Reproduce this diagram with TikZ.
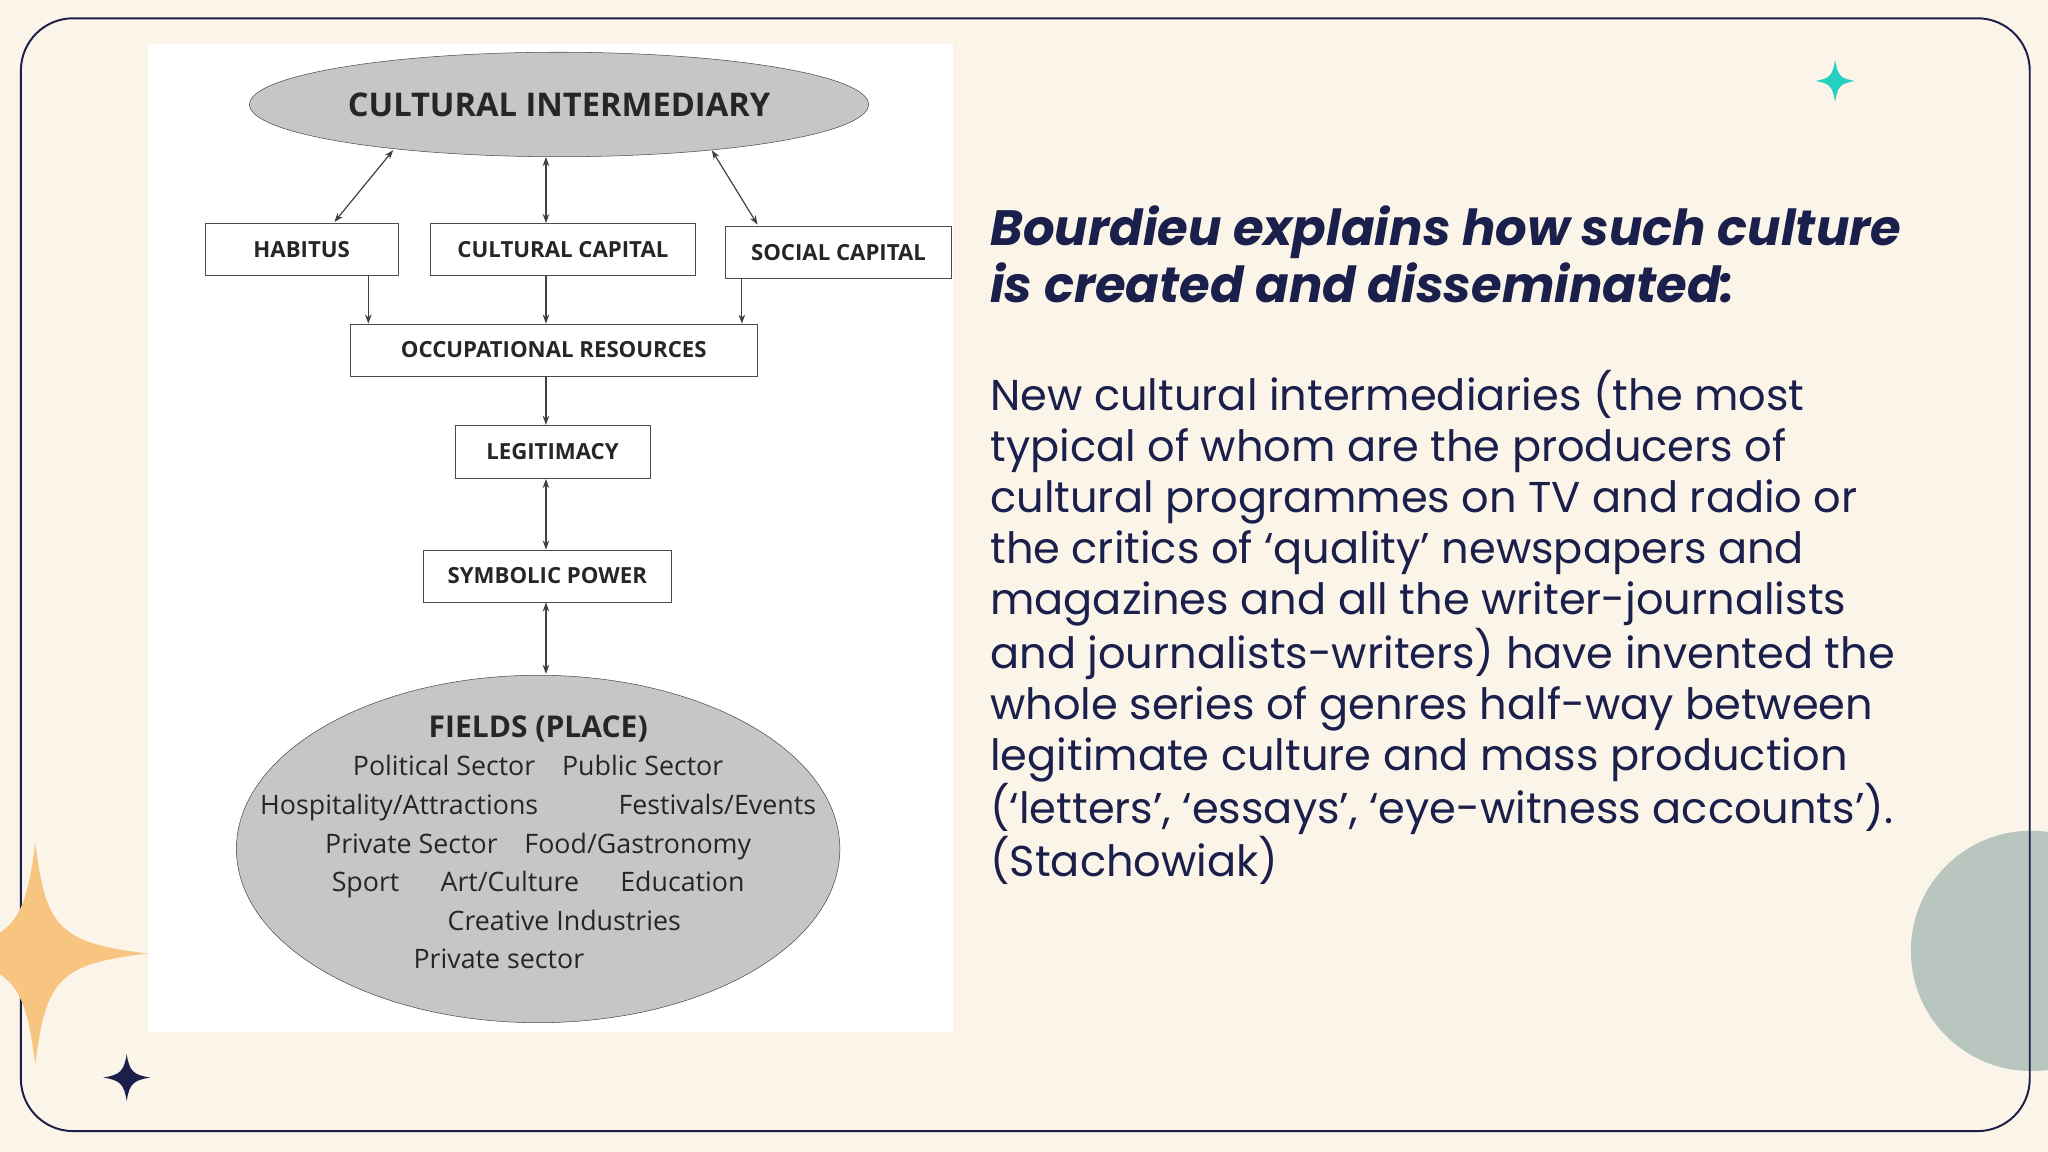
\documentclass[tikz,border=0pt]{standalone}
\usepackage{fontspec}
\setmainfont{Poppins}
\newfontfamily\diag{Open Sans}
\usetikzlibrary{shapes.geometric,arrows.meta}
\definecolor{bg}{HTML}{FBF4E9}
\definecolor{navy}{HTML}{1B1F4B}
\definecolor{grayf}{HTML}{C6C6C6}
\definecolor{sage}{RGB}{185,198,192}
\definecolor{peach}{RGB}{247,197,128}
\definecolor{teal}{RGB}{38,208,190}
\begin{document}
\begin{tikzpicture}[x=1pt,y=-1pt,
  box/.style={draw=black!70,fill=white,minimum height=40pt,inner sep=0pt,font=\diag\fontsize{17}{17}\selectfont\bfseries,text=black!85},
  arr/.style={-{Stealth[length=7pt,width=5pt]},black!75,line width=0.9pt},
  darr/.style={{Stealth[length=7pt,width=5pt]}-{Stealth[length=7pt,width=5pt]},black!75,line width=0.9pt}]
\fill[bg] (0,0) rectangle (1568,882);
\clip (0,0) rectangle (1568,882);
\fill[sage] (1555,728) circle (92);
\draw[navy,line width=1.5pt,rounded corners=40] (16,14) rectangle (1554,866);
\fill[white] (113,34) rectangle (730,790);
% stars
\fill[peach] (27,645) .. controls (35,710) and (45,722) .. (113,730) .. controls (45,738) and (35,750) .. (27,815) .. controls (19,750) and (9,738) .. (-60,730) .. controls (9,722) and (19,710) .. (27,645) -- cycle;
\fill[navy] (97,807) .. controls (99,820) and (102,823) .. (115,825) .. controls (102,827) and (99,830) .. (97,843) .. controls (95,830) and (92,827) .. (79,825) .. controls (92,823) and (95,820) .. (97,807) -- cycle;
\fill[teal] (1405,46) .. controls (1407,58) and (1409,60) .. (1420,62) .. controls (1409,64) and (1407,66) .. (1405,78) .. controls (1403,66) and (1401,64) .. (1390,62) .. controls (1401,60) and (1403,58) .. (1405,46) -- cycle;
% diagram
\node[ellipse,draw=black!70,fill=grayf,minimum width=474pt,minimum height=80pt,inner sep=0pt,font=\diag\fontsize{25}{25}\selectfont\bfseries,text=black!85] (ci) at (428,80) {CULTURAL INTERMEDIARY};
\node[box,minimum width=148pt] (hab) at (231,191) {HABITUS};
\node[box,minimum width=203pt] (cc) at (431,191) {CULTURAL CAPITAL};
\node[box,minimum width=173pt] (sc) at (642,193) {SOCIAL CAPITAL};
\node[box,minimum width=312pt] (occ) at (424,268) {OCCUPATIONAL RESOURCES};
\node[box,minimum width=149pt,minimum height=41pt] (leg) at (423,346) {LEGITIMACY};
\node[box,minimum width=190pt] (sp) at (419,441) {SYMBOLIC POWER};
\node[ellipse,draw=black!70,fill=grayf,minimum width=462pt,minimum height=266pt,inner sep=0pt] (fld) at (412,650) {};
\node[font=\diag\fontsize{23}{23}\selectfont\bfseries,text=black!85] (fldt) at (412,558) {FIELDS (PLACE)};
\node[font=\diag\fontsize{20.5}{29.5}\selectfont,text=black!85,align=center,anchor=north] (fldl) at (412,575) {Political Sector\quad Public Sector\\Hospitality/Attractions\qquad\quad Festivals/Events\\Private Sector\quad Food/Gastronomy\\Sport\quad\; Art/Culture\quad\; Education\\\hspace*{40pt}Creative Industries\\Private sector\hspace*{60pt}};
\coordinate (a1) at (301,115);
\coordinate (a2) at (256,170);
\coordinate (b1) at (545,115);
\coordinate (b2) at (580,172);
\coordinate (f1) at (418,516);
\draw[darr] (a1) -- (a2);
\draw[darr] (ci.south -| 418,0) -- (cc.north -| 418,0);
\draw[darr] (b1) -- (b2);
\draw[arr] (hab.south -| 282,0) -- (occ.north -| 282,0);
\draw[arr] (cc.south -| 418,0) -- (occ.north -| 418,0);
\draw[arr] (sc.south -| 568,0) -- (occ.north -| 568,0);
\draw[arr] (occ.south -| 418,0) -- (leg.north -| 418,0);
\draw[darr] (leg.south -| 418,0) -- (sp.north -| 418,0);
\draw[darr] (sp.south -| 418,0) -- (f1);
% text
\node[anchor=north west,text=navy,font=\fontsize{38}{44}\selectfont\bfseries\itshape,align=left,inner sep=0pt] (title) at (758,157) {Bourdieu explains how such culture\\is created and disseminated:};
\node[anchor=north west,text=navy,font=\fontsize{33}{39.2}\selectfont\mdseries,align=left,inner sep=0pt] (body) at (758,283) {New cultural intermediaries (the most\\typical of whom are the producers of\\cultural programmes on TV and radio or\\the critics of ‘quality’ newspapers and\\magazines and all the writer-journalists\\and journalists-writers) have invented the\\whole series of genres half-way between\\legitimate culture and mass production\\(‘letters’, ‘essays’, ‘eye-witness accounts’).\\(Stachowiak)};
\end{tikzpicture}
\end{document}
